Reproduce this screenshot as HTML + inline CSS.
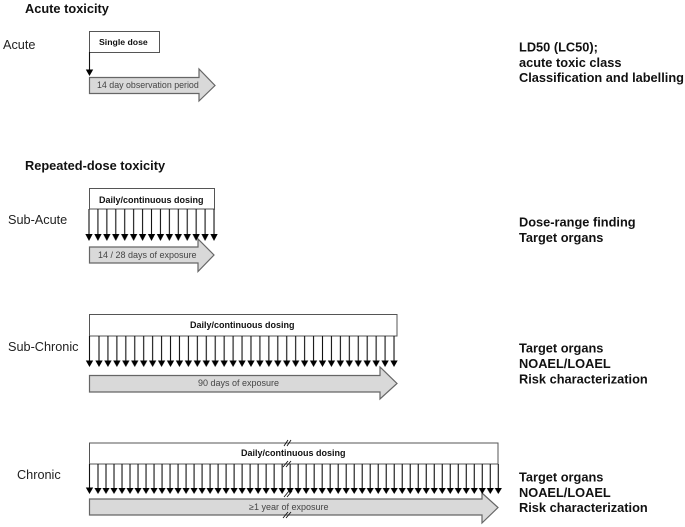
<!DOCTYPE html>
<html>
<head>
<meta charset="utf-8">
<style>
html,body{margin:0;padding:0;background:#fff;width:685px;height:527px;overflow:hidden}
svg{display:block;filter:blur(0.35px)}
text{font-family:"Liberation Sans",Arial,sans-serif}
.h{font-size:12.8px;font-weight:bold;fill:#111}
.l{font-size:12.7px;fill:#222}
.b{font-size:8.7px;font-weight:bold;fill:#111}
.d{font-size:9px;font-weight:bold;fill:#111}
.g{font-size:9px;fill:#444}
.box{fill:#fff;stroke:#555;stroke-width:1}
.blk{fill:#d9d9d9;stroke:#666;stroke-width:1.2}
.brk{stroke:#111;stroke-width:.9;fill:none}
</style>
</head>
<body>
<svg width="685" height="527" viewBox="0 0 685 527" xmlns="http://www.w3.org/2000/svg">
<defs>
<pattern id="p1" patternUnits="userSpaceOnUse" x="84.535" y="209" width="8.93" height="32">
<path d="M4.465 0V26" stroke="#111" stroke-width="1.1" fill="none"/>
<path d="M.8 25H8.130L4.465 32Z" fill="#000"/>
</pattern>
<pattern id="p2" patternUnits="userSpaceOnUse" x="94.53" y="336" width="8.94" height="31">
<path d="M4.47 0V25" stroke="#111" stroke-width="1.1" fill="none"/>
<path d="M.8 24.500H8.140L4.47 31Z" fill="#000"/>
</pattern>
<pattern id="p3" patternUnits="userSpaceOnUse" x="93.997" y="464" width="8.006" height="30">
<path d="M4.003 0V25" stroke="#111" stroke-width="1.1" fill="none"/>
<path d="M.4 24H7.6L4.003 30Z" fill="#000"/>
</pattern>
</defs>

<!-- Acute -->
<text class="h" x="25" y="13">Acute toxicity</text>
<text class="l" x="3" y="49">Acute</text>
<rect class="box" x="89.500" y="31.500" width="70" height="21"/>
<text class="b" x="99" y="45">Single dose</text>
<path class="blk" d="M89.500 77.500H199V69L215 85.500L199 101V93.500H89.500Z"/>
<path d="M89.500 52V71" stroke="#111" stroke-width="1.1"/>
<path d="M85.800 69.500H93.200L89.500 76Z" fill="#000"/>
<text class="g" x="97" y="88" style="font-size:8.85px">14 day observation period</text>
<text class="h" x="519" y="51.500">LD50 (LC50);</text>
<text class="h" x="519" y="67">acute toxic class</text>
<text class="h" x="519" y="82">Classification and labelling</text>

<!-- Sub-Acute -->
<text class="h" x="25" y="170">Repeated-dose toxicity</text>
<text class="l" x="8" y="224">Sub-Acute</text>
<path class="blk" d="M89.500 247H198V239L214 255L198 271.500V263H89.500Z"/>
<rect class="box" x="89.500" y="188.500" width="125" height="20.500"/>
<rect x="84.535" y="209" width="134.000" height="32" fill="url(#p1)"/>
<text class="d" x="99" y="203">Daily/continuous dosing</text>
<text class="g" x="98" y="258">14 / 28 days of exposure</text>
<text class="h" x="519" y="226.500">Dose-range finding</text>
<text class="h" x="519" y="242">Target organs</text>

<!-- Sub-Chronic -->
<text class="l" x="8" y="351">Sub-Chronic</text>
<path class="blk" d="M89.500 375.500H380V367L397 383.500L380 399V392H89.500Z"/>
<rect class="box" x="89.500" y="314.500" width="307.500" height="21.500"/>
<path d="M89.500 336V361" stroke="#111" stroke-width="1.1"/>
<path d="M85.800 360.500H93.200L89.500 367Z" fill="#000"/>
<rect x="94.530" y="336" width="304.960" height="31" fill="url(#p2)"/>
<text class="d" x="190" y="328">Daily/continuous dosing</text>
<text class="g" x="198" y="386">90 days of exposure</text>
<text class="h" x="519" y="352.500">Target organs</text>
<text class="h" x="519" y="368">NOAEL/LOAEL</text>
<text class="h" x="519" y="383.500">Risk characterization</text>

<!-- Chronic -->
<text class="l" x="17" y="479">Chronic</text>
<path class="blk" d="M89.500 499H482V493L498 507.500L482 523V515H89.500Z"/>
<rect class="box" x="89.500" y="443" width="408.500" height="21"/>
<path d="M89.500 464V488" stroke="#111" stroke-width="1.1"/>
<path d="M85.800 487.500H93.200L89.500 494Z" fill="#000"/>
<rect x="93.997" y="464" width="408.306" height="30" fill="url(#p3)"/>
<text class="d" x="241" y="456">Daily/continuous dosing</text>
<text class="g" x="249" y="510">≥1 year of exposure</text>
<text class="h" x="519" y="481.500">Target organs</text>
<text class="h" x="519" y="497">NOAEL/LOAEL</text>
<text class="h" x="519" y="512">Risk characterization</text>

<!-- Break marks -->
<path class="brk" d="M284 446L288 440M287 446L291 440"/>
<path class="brk" d="M283 467L288 461M286 467L291 461"/>
<path class="brk" d="M284 497L289 491M287 497L292 491"/>
<path class="brk" d="M283 518L288 512M286 518L291 512"/>
</svg>
</body>
</html>
